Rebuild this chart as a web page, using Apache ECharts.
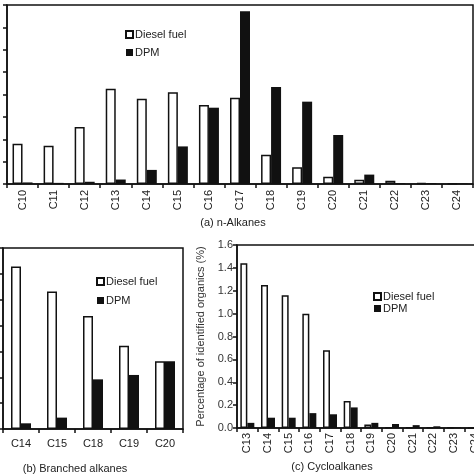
<!DOCTYPE html>
<html>
<head>
<meta charset="utf-8">
<script src="https://cdn.jsdelivr.net/npm/echarts@6/dist/echarts.min.js"></script>
<style>
  html, body { margin: 0; padding: 0; background: #fff; }
  #main { width: 474px; height: 474px; }
</style>
</head>
<body>
<div id="main"></div>
<script>
// (a) n-Alkanes
var catsA = ['C10', 'C11', 'C12', 'C13', 'C14', 'C15', 'C16', 'C17', 'C18', 'C19', 'C20', 'C21', 'C22', 'C23', 'C24'];
var dieselA = [1.80, 1.71, 2.55, 4.26, 3.81, 4.10, 3.53, 3.86, 1.31, 0.75, 0.32, 0.19, 0.14, 0.05, 0.02];
var dpmA = [0.07, 0.05, 0.10, 0.20, 0.63, 1.68, 3.41, 7.72, 4.34, 3.68, 2.19, 0.42, 0.03, 0.04, 0.02];

// (b) Branched alkanes
var catsB = ['C14', 'C15', 'C18', 'C19', 'C20'];
var dieselB = [6.28, 5.32, 4.37, 3.22, 2.62];
var dpmB = [0.22, 0.44, 1.92, 2.09, 2.62];

// (c) Cycloalkanes
var catsC = ['C13', 'C14', 'C15', 'C16', 'C17', 'C18', 'C19', 'C20', 'C21', 'C22', 'C23', 'C24'];
var dieselC = [1.44, 1.25, 1.16, 1.00, 0.68, 0.236, 0.03, 0.005, 0.005, 0.005, 0.003, 0.002];
var dpmC = [0.045, 0.09, 0.09, 0.13, 0.12, 0.18, 0.045, 0.035, 0.025, 0.015, 0.005, 0.003];

var font = 'Liberation Sans, Arial, sans-serif';
var ink = '#111';

var chart = echarts.init(document.getElementById('main'));

function xAx(idx, cats, rotate, margin) {
  return {
    type: 'category', gridIndex: idx, data: cats,
    axisLine: { lineStyle: { color: ink, width: 1.5 } },
    axisTick: { show: true, interval: 0, length: 4, lineStyle: { color: ink, width: 1.5 } },
    axisLabel: { interval: 0, rotate: rotate, margin: margin, color: '#222', fontSize: 11, fontFamily: font },
    splitLine: { show: false }
  };
}

function yAx(idx, max, interval, showLabel) {
  return {
    type: 'value', gridIndex: idx, min: 0, max: max, interval: interval,
    axisLine: { show: true, lineStyle: { color: ink, width: 1.5 } },
    axisTick: { show: true, length: 4, lineStyle: { color: ink, width: 1.5 } },
    axisLabel: {
      show: showLabel, color: '#333', fontSize: 11, fontFamily: font, margin: 4,
      formatter: function (v) { return v.toFixed(1); }
    },
    splitLine: { show: false }
  };
}

function barPair(idx, diesel, dpm, w) {
  return [{
    name: 'Diesel fuel', type: 'bar', xAxisIndex: idx, yAxisIndex: idx,
    data: diesel, barWidth: w, barGap: '0%',
    itemStyle: { color: '#fff', borderColor: ink, borderWidth: 1.5 }
  }, {
    name: 'DPM', type: 'bar', xAxisIndex: idx, yAxisIndex: idx,
    data: dpm, barWidth: w, barGap: '0%',
    itemStyle: { color: ink }
  }];
}

function leg(idx, left, top, gap) {
  return {
    seriesIndex: [idx * 2, idx * 2 + 1],
    data: ['Diesel fuel', 'DPM'],
    orient: 'vertical', left: left, top: top, itemGap: gap,
    icon: 'rect', itemWidth: 7, itemHeight: 7,
    textStyle: { color: '#222', fontSize: 11, fontFamily: font, padding: [0, 0, 0, -3] }
  };
}

var yC = yAx(2, 1.6, 0.2, true);
yC.name = 'Percentage of identified organics (%)';
yC.nameLocation = 'middle';
yC.nameGap = 30;
yC.nameTextStyle = { color: '#333', fontSize: 11, fontFamily: font };

var option = {
  backgroundColor: '#fff',
  animation: false,
  grid: [
    { left: 7, top: 5, right: 1, bottom: 290, show: true, borderColor: ink, borderWidth: 1.5, outerBoundsMode: 'none' },
    { left: 3, top: 248, right: 291, bottom: 45, show: true, borderColor: ink, borderWidth: 1.5, outerBoundsMode: 'none' },
    { left: 237, top: 245, width: 248, height: 183, show: true, borderColor: ink, borderWidth: 1.5, outerBoundsMode: 'none' }
  ],
  xAxis: [xAx(0, catsA, 90, 6), xAx(1, catsB, 0, 9), xAx(2, catsC, 90, 5)],
  yAxis: [yAx(0, 8, 1, false), yAx(1, 7, 1, false), yC],
  legend: [leg(0, 120, 24, 7), leg(1, 91, 271, 8), leg(2, 368, 286, 1)],
  graphic: [
    { type: 'text', x: 233, y: 223, style: { text: '(a) n-Alkanes', textAlign: 'center', textVerticalAlign: 'middle', fill: '#222', font: '11px ' + font } },
    { type: 'text', x: 75, y: 469, style: { text: '(b) Branched alkanes', textAlign: 'center', textVerticalAlign: 'middle', fill: '#222', font: '11px ' + font } },
    { type: 'text', x: 332, y: 467, style: { text: '(c) Cycloalkanes', textAlign: 'center', textVerticalAlign: 'middle', fill: '#222', font: '11px ' + font } }
  ],
  series: [].concat(barPair(0, dieselA, dpmA, 10), barPair(1, dieselB, dpmB, 10), barPair(2, dieselC, dpmC, 7))
};

chart.setOption(option);
</script>
</body>
</html>
